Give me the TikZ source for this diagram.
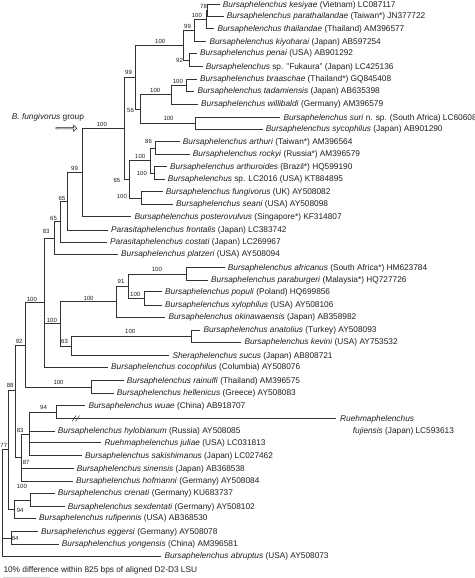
\documentclass[tikz,border=0pt]{standalone}
\usepackage{fontspec}
\setmainfont{Liberation Sans}
\usetikzlibrary{shapes.arrows,calc}
\definecolor{ln}{HTML}{333333}
\definecolor{tx}{HTML}{1E1E1E}
\begin{document}
\begin{tikzpicture}[x=1pt,y=-1pt,
  br/.style={draw=ln,line width=0.6pt},
  leaf/.style={anchor=west,inner xsep=3pt,inner ysep=0pt,text height=5.9pt,text depth=0.6pt,font=\fontsize{8.3}{9.8}\selectfont,text=tx},
  bs/.style={anchor=west,inner sep=0pt,text height=4.3pt,text depth=0pt,font=\fontsize{6}{7}\selectfont,text=tx},
  plain/.style={anchor=west,inner sep=0pt,text height=5.9pt,text depth=0.6pt,font=\fontsize{8.3}{9.8}\selectfont,text=tx}]
\useasboundingbox (0,0) rectangle (474,578);
% ---------- leaves ----------
\node[leaf] (L1) at (219.7,4.7) {\textit{Bursaphelenchus kesiyae} (Vietnam) LC087117};
\node[leaf] (L2) at (223.7,16) {\textit{Bursaphelenchus parathailandae} (Taiwan*) JN377722};
\node[leaf] (L3) at (214.3,28.7) {\textit{Bursaphelenchus thailandae} (Thailand) AM396577};
\node[leaf] (L4) at (206.3,41.7) {\textit{Bursaphelenchus kiyoharai} (Japan) AB597254};
\node[leaf] (L5) at (197,53.3) {\textit{Bursaphelenchus penai} (USA) AB901292};
\node[leaf] (L6) at (202.7,66.7) {\textit{Bursaphelenchus} sp. "Fukaura" (Japan) LC425136};
\node[leaf] (L7) at (197,79.3) {\textit{Bursaphelenchus braaschae} (Thailand*) GQ845408};
\node[leaf] (L8) at (194.3,91) {\textit{Bursaphelenchus tadamiensis} (Japan) AB635398};
\node[leaf] (L9) at (198,104.3) {\textit{Bursaphelenchus willibaldi} (Germany) AM396579};
\node[leaf] (L10) at (280.3,117.7) {\textit{Bursaphelenchus suri} n. sp. (South Africa) LC606085};
\node[leaf] (L11) at (262.7,129) {\textit{Bursaphelenchus sycophilus} (Japan) AB901290};
\node[leaf] (L12) at (179.7,141.7) {\textit{Bursaphelenchus arthuri} (Taiwan*) AM396564};
\node[leaf] (L13) at (189.7,154.3) {\textit{Bursaphelenchus rockyi} (Russia*) AM396579};
\node[leaf] (L14) at (167,166.7) {\textit{Bursaphelenchus arthuroides} (Brazil*) HQ599190};
\node[leaf] (L15) at (164.7,179.3) {\textit{Bursaphelenchus} sp. LC2016 (USA) KT884895};
\node[leaf] (L16) at (162.7,191.7) {\textit{Bursaphelenchus fungivorus} (UK) AY508082};
\node[leaf] (L17) at (173,204.3) {\textit{Bursaphelenchus seani} (USA) AY508098};
\node[leaf] (L18) at (131.3,216.7) {\textit{Bursaphelenchus posterovulvus} (Singapore*) KF314807};
\node[leaf] (L19) at (108,230) {\textit{Parasitaphelenchus frontalis} (Japan) LC383742};
\node[leaf] (L20) at (107,242.3) {\textit{Parasitaphelenchus costati} (Japan) LC269967};
\node[leaf] (L21) at (118,254) {\textit{Bursaphelenchus platzeri} (USA) AY508094};
\node[leaf] (L22) at (224.7,267.7) {\textit{Bursaphelenchus africanus} (South Africa*) HM623784};
\node[leaf] (L23) at (208,280) {\textit{Bursaphelenchus paraburgeri} (Malaysia*) HQ727726};
\node[leaf] (L24) at (162,291.7) {\textit{Bursaphelenchus populi} (Poland) HQ699856};
\node[leaf] (L25) at (162,305) {\textit{Bursaphelenchus xylophilus} (USA) AY508106};
\node[leaf] (L26) at (165.3,317.3) {\textit{Bursaphelenchus okinawaensis} (Japan) AB358982};
\node[leaf] (L27) at (200.3,330) {\textit{Bursaphelenchus anatolius} (Turkey) AY508093};
\node[leaf] (L28) at (241.3,342.3) {\textit{Bursaphelenchus kevini} (USA) AY753532};
\node[leaf] (L29) at (169.3,355.5) {\textit{Sheraphelenchus sucus} (Japan) AB808721};
\node[leaf] (L30) at (108,367.3) {\textit{Bursaphelenchus cocophilus} (Columbia) AY508076};
\node[leaf] (L31) at (123.7,380.7) {\textit{Bursaphelenchus rainulfi} (Thailand) AM396575};
\node[leaf] (L32) at (113.7,393.3) {\textit{Bursaphelenchus hellenicus} (Greece) AY508083};
\node[leaf] (L33) at (85.3,405.7) {\textit{Bursaphelenchus wuae} (China) AB918707};
\node[leaf,inner xsep=4.5pt] (L34) at (335.5,418.5) {\textit{Ruehmaphelenchus}};
\node[plain] (L34b) at ($(L34.west)+(17.2,12)$) {\textit{fujiensis} (Japan) LC593613};
\node[leaf] (L35) at (54.7,431) {\textit{Bursaphelenchus hylobianum} (Russia) AY508085};
\node[leaf] (L36) at (101.3,442.7) {\textit{Ruehmaphelenchus juliae} (USA) LC031813};
\node[leaf] (L37) at (82,455.7) {\textit{Bursaphelenchus sakishimanus} (Japan) LC027462};
\node[leaf] (L38) at (73.7,468.7) {\textit{Bursaphelenchus sinensis} (Japan) AB368538};
\node[leaf] (L39) at (73,481) {\textit{Bursaphelenchus hofmanni} (Germany) AY508084};
\node[leaf] (L40) at (54.7,493.3) {\textit{Bursaphelenchus crenati} (Germany) KU683737};
\node[leaf] (L41) at (64.7,506.7) {\textit{Bursaphelenchus sexdentati} (Germany) AY508102};
\node[leaf] (L42) at (36,518.3) {\textit{Bursaphelenchus rufipennis} (USA) AB368530};
\node[leaf] (L43) at (38,531.7) {\textit{Bursaphelenchus eggersi} (Germany) AY508078};
\node[leaf] (L44) at (58.7,544.3) {\textit{Bursaphelenchus yongensis} (China) AM396581};
\node[leaf] (L45) at (161.3,556) {\textit{Bursaphelenchus abruptus} (USA) AY508073};
% ---------- internal nodes ----------
\coordinate (n78) at (207.5,10.35);
\coordinate (n100a) at (206,19.5);
\coordinate (n99a) at (194,30.6);
\coordinate (n92) at (189.3,60);
\coordinate (nA) at (183.3,45.3);
\coordinate (nE) at (186,85.15);
\coordinate (nD) at (171,94.7);
\coordinate (nF) at (195,123.35);
\coordinate (nC) at (140,109);
\coordinate (nB) at (135,77.15);
\coordinate (nI) at (155,148);
\coordinate (nK) at (154,173);
\coordinate (nJ) at (150,160.5);
\coordinate (nL) at (141.7,198);
\coordinate (nM) at (129.3,179.25);
\coordinate (nG) at (124,128.2);
\coordinate (nN) at (82.3,172.45);
\coordinate (nO) at (67.7,201.2);
\coordinate (nP) at (60,221.75);
\coordinate (nQ) at (54.3,237.9);
\coordinate (nX) at (186,273.85);
\coordinate (nY) at (144,298.35);
\coordinate (nZ) at (128.3,286.1);
\coordinate (nU) at (116,301.7);
\coordinate (nW) at (191,336.15);
\coordinate (nV) at (71,345.8);
\coordinate (nS) at (60,323.75);
\coordinate (nR) at (44.3,302.6);
\coordinate (nAA) at (91.7,387);
\coordinate (nT) at (25,344.8);
\coordinate (nFF) at (56,412.1);
\coordinate (nEE) at (29.3,433.9);
\coordinate (nCC) at (21.7,457.45);
\coordinate (nBB) at (15.7,390);
\coordinate (nGG) at (30,500);
\coordinate (nHH) at (14.3,509.15);
\coordinate (nDD) at (8.3,449.6);
\coordinate (nJJ) at (11.7,538);
\coordinate (nII) at (2.7,505.5);
% ---------- branches ----------
\draw[br] (n78) |- (L1.west); \draw[br] (n78) |- (L2.west);
\draw[br] (n100a) |- (n78); \draw[br] (n100a) |- (L3.west);
\draw[br] (n99a) |- (n100a); \draw[br] (n99a) |- (L4.west);
\draw[br] (n92) |- (L5.west); \draw[br] (n92) |- (L6.west);
\draw[br] (nA) |- (n99a); \draw[br] (nA) |- (n92);
\draw[br] (nE) |- (L7.west); \draw[br] (nE) |- (L8.west);
\draw[br] (nD) |- (nE); \draw[br] (nD) |- (L9.west);
\draw[br] (nF) |- (L10.west); \draw[br] (nF) |- (L11.west);
\draw[br] (nC) |- (nD); \draw[br] (nC) |- (nF);
\draw[br] (nB) |- (nA); \draw[br] (nB) |- (nC);
\draw[br] (nI) |- (L12.west); \draw[br] (nI) |- (L13.west);
\draw[br] (nK) |- (L14.west); \draw[br] (nK) |- (L15.west);
\draw[br] (nJ) |- (nI); \draw[br] (nJ) |- (nK);
\draw[br] (nL) |- (L16.west); \draw[br] (nL) |- (L17.west);
\draw[br] (nM) |- (nJ); \draw[br] (nM) |- (nL);
\draw[br] (nG) |- (nB); \draw[br] (nG) |- (nM);
\draw[br] (nN) |- (nG); \draw[br] (nN) |- (L18.west);
\draw[br] (nO) |- (nN); \draw[br] (nO) |- (L19.west);
\draw[br] (nP) |- (nO); \draw[br] (nP) |- (L20.west);
\draw[br] (nQ) |- (nP); \draw[br] (nQ) |- (L21.west);
\draw[br] (nX) |- (L22.west); \draw[br] (nX) |- (L23.west);
\draw[br] (nY) |- (L24.west); \draw[br] (nY) |- (L25.west);
\draw[br] (nZ) |- (nX); \draw[br] (nZ) |- (nY);
\draw[br] (nU) |- (nZ); \draw[br] (nU) |- (L26.west);
\draw[br] (nW) |- (L27.west); \draw[br] (nW) |- (L28.west);
\draw[br] (nV) |- (nW); \draw[br] (nV) |- (L29.west);
\draw[br] (nS) |- (nU); \draw[br] (nS) |- (nV);
\draw[br] (nR) |- (nQ); \draw[br] (nR) |- (nS); \draw[br] (nR) |- (L30.west);
\draw[br] (nAA) |- (L31.west); \draw[br] (nAA) |- (L32.west);
\draw[br] (nT) |- (nR); \draw[br] (nT) |- (nAA);
\draw[br] (nFF) |- (L33.west); \draw[br] (nFF) |- (L34.west);
\draw[br] (nEE) |- (nFF); \draw[br] (nEE) |- (L35.west); \draw[br] (nEE) |- (L36.west); \draw[br] (nEE) |- (L37.west);
\draw[br] (nCC) |- (nEE); \draw[br] (nCC) |- (L38.west); \draw[br] (nCC) |- (L39.west);
\draw[br] (nBB) |- (nT); \draw[br] (nBB) |- (nCC);
\draw[br] (nGG) |- (L40.west); \draw[br] (nGG) |- (L41.west);
\draw[br] (nHH) |- (nGG); \draw[br] (nHH) |- (L42.west);
\draw[br] (nDD) |- (nBB); \draw[br] (nDD) |- (nHH);
\draw[br] (nJJ) |- (L43.west); \draw[br] (nJJ) |- (L44.west);
\draw[br] (nII) |- (nDD); \draw[br] (nII) |- (nJJ); \draw[br] (nII) |- (L45.west);
% break mark on the long branch
\draw[br,line width=0.5pt] (72,421.5) -- (76,415.5) (75.5,421.5) -- (79.5,415.5);
% ---------- bootstrap values ----------
\node[bs] at (200,6) {78};
\node[bs] at (191.7,15) {100};
\node[bs] at (184,26.7) {99};
\node[bs] at (176,60.7) {92};
\node[bs] at (155,41.7) {100};
\node[bs] at (172.7,81) {100};
\node[bs] at (150,90) {100};
\node[bs] at (127,110) {56};
\node[bs] at (125,72.7) {99};
\node[bs] at (163.3,118.3) {100};
\node[bs] at (96.7,124) {100};
\node[bs] at (145,141.7) {86};
\node[bs] at (135,156) {100};
\node[bs] at (136.7,173.3) {100};
\node[bs] at (113.3,180) {65};
\node[bs] at (116.7,196.7) {100};
\node[bs] at (71,168.3) {99};
\node[bs] at (58.3,198.3) {65};
\node[bs] at (50,218.3) {65};
\node[bs] at (42.7,231.7) {83};
\node[bs] at (151.7,269) {100};
\node[bs] at (117.5,281) {91};
\node[bs] at (130,294.3) {100};
\node[bs] at (83.3,298.3) {100};
\node[bs] at (26.7,299) {100};
\node[bs] at (46.7,320) {100};
\node[bs] at (125,331.7) {100};
\node[bs] at (61,341.7) {63};
\node[bs] at (15.7,341.7) {92};
\node[bs] at (53.3,382.7) {100};
\node[bs] at (6.7,385) {88};
\node[bs] at (40,407.3) {94};
\node[bs] at (16.7,430) {83};
\node[bs] at (22.7,462.7) {87};
\node[bs] at (0.3,445.5) {77};
\node[bs] at (16.7,486.7) {100};
\node[bs] at (16.7,510) {94};
\node[bs] at (11.7,538.3) {84};
% ---------- group label and arrow ----------
\node[plain] (grp) at (11.7,117.3) {\textit{B. fungivorus} group};
\node[single arrow,draw=tx,line width=0.5pt,fill=white,minimum height=21pt,minimum width=6.5pt,single arrow head extend=1.2pt,inner sep=0pt] (arr) at (66,128.3) {};
% ---------- scale ----------
\node[plain] (scl) at (3.3,570) {10\% difference within 825 bps of aligned D2-D3 LSU};
\draw[gray!35,line width=1.6pt] (3.3,577.6) -- (50,577.6);
\end{tikzpicture}
\end{document}
